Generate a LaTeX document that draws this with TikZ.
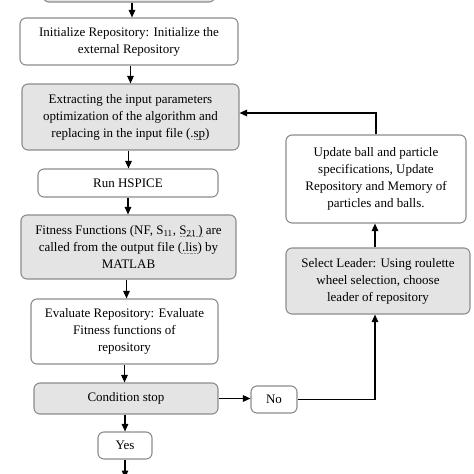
\documentclass[tikz,border=0pt]{standalone}
\usepackage{fontspec}
\setmainfont{Liberation Serif}
\usetikzlibrary{arrows.meta}
\definecolor{boxgray}{HTML}{8C8C8C}
\definecolor{fillgray}{HTML}{E4E4E4}
\newsavebox\dulbox
\newcommand\dul[1]{{\sbox\dulbox{#1}\rlap{\lower2pt\hbox to\wd\dulbox{\color{boxgray}\xleaders\hbox to1.4pt{\hss\vrule height0.5pt width0.7pt\hss}\hfill}}\usebox\dulbox}}
\begin{document}
\begin{tikzpicture}[x=1pt,y=1pt,
  box/.style={draw=boxgray, line width=1.1pt, rounded corners=6pt, align=center, inner sep=0pt, fill=white, font=\fontsize{13}{17}\selectfont},
  graybox/.style={box, fill=fillgray},
  arr/.style={-{Triangle[length=7.5pt,width=6.5pt]}, line width=1.3pt, black}]
\useasboundingbox (0,0) rectangle (474,-474);
\clip (0,0) rectangle (474,-474);
\node[graybox, minimum width=172pt, minimum height=14pt] (top) at (129,5) {};
\node[box, minimum width=218pt, minimum height=47pt] (init) at (129,-41.5) {Initialize Repository: Initialize the\\external Repository};
\node[graybox, minimum width=217pt, minimum height=66pt] (extract) at (130.5,-117) {Extracting the input parameters\\optimization of the algorithm and\\replacing in the input file (.\dul{sp})};
\node[box, minimum width=180pt, minimum height=28pt] (run) at (128,-183) {Run HSPICE};
\node[graybox, minimum width=215pt, minimum height=64pt] (fit) at (128.5,-247) {Fitness Functions (NF, S\textsubscript{11}, \dul{S\textsubscript{21}\,)} are\\called from the output file (\dul{.lis}) by\\MATLAB};
\node[box, minimum width=187pt, minimum height=65pt] (eval) at (124.5,-331.5) {Evaluate Repository: Evaluate\\Fitness functions of\\repository};
\node[graybox, minimum width=184pt, minimum height=31pt] (cond) at (126,-398.5) {Condition stop};
\node[box, minimum width=46pt, minimum height=27pt] (no) at (274,-399.5) {No};
\node[box, minimum width=54pt, minimum height=27pt] (yes) at (125,-445.5) {Yes};
\node[graybox, minimum width=184pt, minimum height=66pt] (sel) at (378,-281) {Select Leader: Using roulette\\wheel selection, choose\\leader of repository};
\node[box, minimum width=180pt, minimum height=88pt] (upd) at (376,-179) {Update ball and particle\\specifications, Update\\Repository and Memory of\\particles and balls.};
\coordinate (out) at (125,-478);
\draw[arr] ([xshift=3pt]top.south) -- ([xshift=3pt]top.south |- init.north);
\draw[arr] ([xshift=1.5pt]init.south) -- ([xshift=1.5pt]init.south |- extract.north);
\draw[arr] ([xshift=-2pt]extract.south) -- ([xshift=-2pt]extract.south |- run.north);
\draw[arr] (run.south) -- (run.south |- fit.north);
\draw[arr] ([xshift=-2pt]fit.south) -- ([xshift=-2pt]fit.south |- eval.north);
\draw[arr] (eval.south) -- (eval.south |- cond.north);
\draw[arr] ([xshift=-1pt]cond.south) -- ([xshift=-1pt]cond.south |- yes.north);
\draw[arr] (yes.south) -- (out);
\draw[arr] (cond.east) -- (cond.east -| no.west);
\draw[arr] (no.east) -| ([xshift=-3pt]sel.south);
\draw[arr] ([xshift=-3pt]sel.north) -- ([xshift=-3pt]sel.north |- upd.south);
\draw[arr] (upd.north) |- ([yshift=4pt]extract.east);
\end{tikzpicture}
\end{document}
